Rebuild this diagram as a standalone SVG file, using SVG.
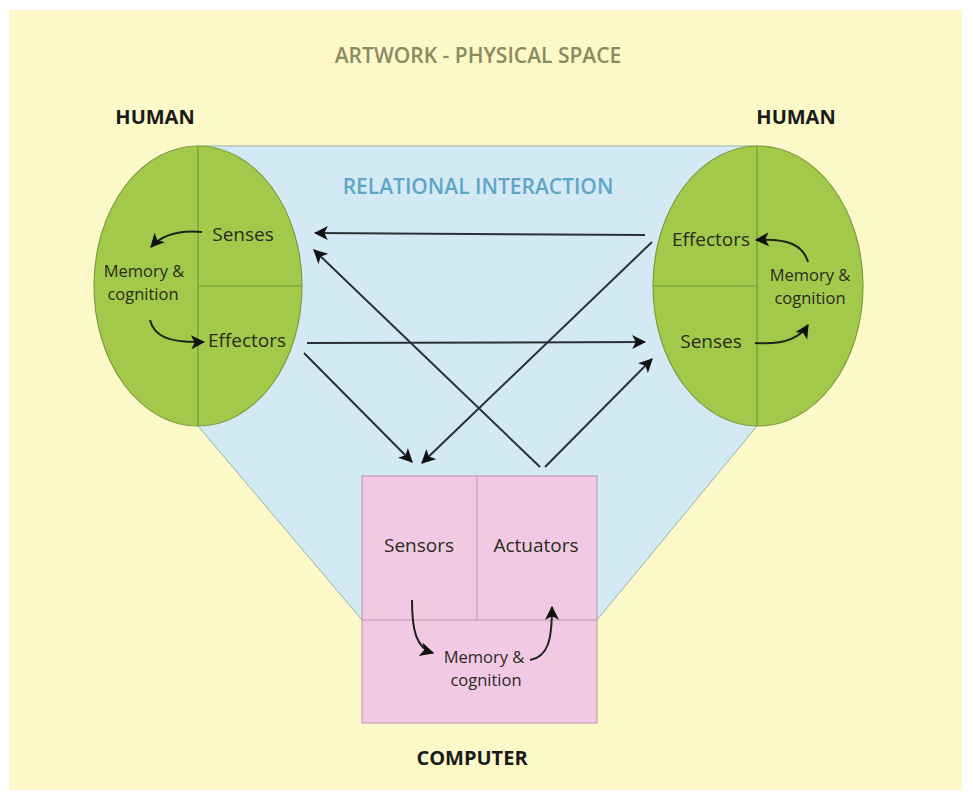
<svg xmlns="http://www.w3.org/2000/svg" width="973" height="803" viewBox="0 0 973 803">
<defs>
<style>
text{font-family:"Open Sans","Liberation Sans",sans-serif;fill:#2b2b1f}
.h{font-weight:700;font-size:20px;fill:#1a1a1a}
.lbl{font-size:19px;text-anchor:middle}
.sm{font-size:16.5px;text-anchor:middle}
.div{stroke:#6f9a3a;stroke-width:1.2;fill:none}
.conn{stroke:#2a3036;stroke-width:2;fill:none}
.cur{stroke:#1e2418;stroke-width:2;fill:none}
</style>
<marker id="ahs" viewBox="0 0 12 12" refX="11" refY="6" markerWidth="14" markerHeight="14" orient="auto" markerUnits="userSpaceOnUse">
<path d="M0,0 L12,6 L0,12 L3,6 Z" fill="#111"/>
</marker>
</defs>
<rect width="973" height="803" fill="#ffffff"/>
<rect x="9" y="10" width="953" height="780" fill="#fdf8c8"/>
<text x="478" y="63" text-anchor="middle" style="font-size:21px;font-weight:600;fill:#8b8a62">ARTWORK - PHYSICAL SPACE</text>
<g id="space">
<polygon points="198,146 757,146 757,426 597,620 362,620 198,426" fill="#d3eaf4" stroke="#9ab0a8" stroke-width="1"/>
<text x="478" y="194" text-anchor="middle" style="font-size:21px;font-weight:600;fill:#5fa6c6">RELATIONAL INTERACTION</text>
</g>
<g id="human-left">
<text class="h" x="155" y="124" text-anchor="middle">HUMAN</text>
<ellipse cx="198" cy="286" rx="104" ry="140" fill="#a3c94b" stroke="#7f9c3f" stroke-width="1.2"/>
<line class="div" x1="198" y1="146" x2="198" y2="426"/>
<line class="div" x1="198" y1="286" x2="302" y2="286"/>
<text class="lbl" x="243" y="241">Senses</text>
<text class="sm" x="144" y="277">Memory &amp;</text>
<text class="sm" x="143" y="300">cognition</text>
<text class="lbl" x="247" y="347">Effectors</text>
<path class="cur" d="M202,232 C180,230 162,235 151,247" marker-end="url(#ahs)"/>
<path class="cur" d="M150,320 C154,336 168,343 204,342" marker-end="url(#ahs)"/>
</g>
<g id="human-right">
<text class="h" x="796" y="124" text-anchor="middle">HUMAN</text>
<ellipse cx="758" cy="286" rx="105" ry="140" fill="#a3c94b" stroke="#7f9c3f" stroke-width="1.2"/>
<line class="div" x1="757" y1="146" x2="757" y2="426"/>
<line class="div" x1="653" y1="286" x2="757" y2="286"/>
<text class="lbl" x="711" y="246">Effectors</text>
<text class="sm" x="810" y="281">Memory &amp;</text>
<text class="sm" x="810" y="304">cognition</text>
<text class="lbl" x="711" y="348">Senses</text>
<path class="cur" d="M808,262 C803,246 790,238 756,240" marker-end="url(#ahs)"/>
<path class="cur" d="M755,343 C782,345 800,338 808,325" marker-end="url(#ahs)"/>
</g>
<g id="computer">
<rect x="362" y="476" width="235" height="247" fill="#f2c9e2" stroke="#b895a8" stroke-width="1"/>
<line x1="477" y1="476" x2="477" y2="620" stroke="#b895a8" stroke-width="1"/>
<line x1="362" y1="620" x2="597" y2="620" stroke="#b895a8" stroke-width="1"/>
<text class="lbl" x="419" y="552">Sensors</text>
<text class="lbl" x="536" y="552">Actuators</text>
<text class="sm" x="484" y="663">Memory &amp;</text>
<text class="sm" x="486" y="686">cognition</text>
<path class="cur" d="M412,600 C412,630 416,648 433,653" marker-end="url(#ahs)"/>
<path class="cur" d="M530,660 C548,657 552,640 552,607" marker-end="url(#ahs)"/>
<text class="h" x="472" y="765" text-anchor="middle">COMPUTER</text>
</g>
<g id="connectors">
<line class="conn" x1="645" y1="235" x2="315" y2="233" marker-end="url(#ahs)"/>
<line class="conn" x1="540" y1="467" x2="314" y2="250" marker-end="url(#ahs)"/>
<line class="conn" x1="307" y1="343" x2="645" y2="342" marker-end="url(#ahs)"/>
<line class="conn" x1="304" y1="353" x2="412" y2="462" marker-end="url(#ahs)"/>
<line class="conn" x1="652" y1="242" x2="422" y2="463" marker-end="url(#ahs)"/>
<line class="conn" x1="545" y1="467" x2="652" y2="359" marker-end="url(#ahs)"/>
</g>
</svg>
